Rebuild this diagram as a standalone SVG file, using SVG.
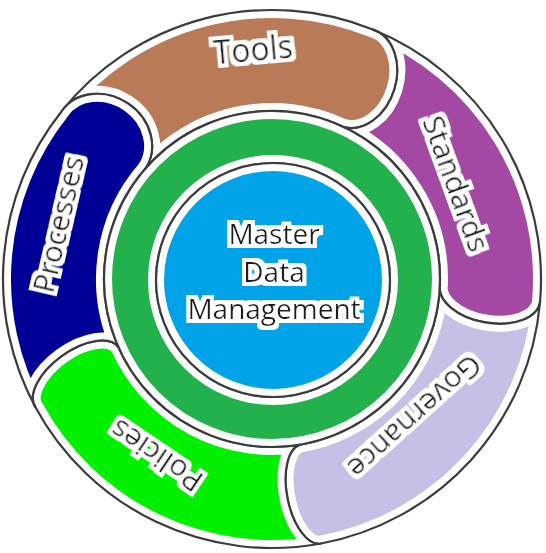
<svg xmlns="http://www.w3.org/2000/svg" width="546" height="553" viewBox="0 0 546 553">
<style>
.fill{stroke:#fff;stroke-width:16}
.line{fill:none;stroke:#3c3c3c;stroke-width:2.2}
.lbl{font-family:"Open Sans","Liberation Sans",sans-serif;fill:#1a1a1a;text-anchor:middle;filter:url(#halo)}
.seg{font-size:30px}
.mid{font-size:28px}
</style>
<defs>
<filter id="halo" x="-30%" y="-60%" width="160%" height="220%">
<feMorphology in="SourceAlpha" operator="dilate" radius="4" result="d"/>
<feFlood flood-color="#ffffff"/>
<feComposite in2="d" operator="in" result="w"/>
<feMerge><feMergeNode in="w"/><feMergeNode in="SourceGraphic"/></feMerge>
</filter>
<path id="pTools" d="M 61.5 111.5 A 269 269 0 0 1 372.8 29.6 A 50.5 38 107.1 0 1 343.0 126.7 A 168 168 0 0 0 145.2 168.8 A 50.5 44 34.4 0 0 61.5 111.5 Z"/>
<path id="pStandards" d="M 372.8 29.6 A 269 269 0 0 1 540.0 302.5 A 50.5 29 10 0 1 439.9 284.9 A 168 168 0 0 0 343.0 126.7 A 50.5 38 107.1 0 0 372.8 29.6 Z"/>
<path id="pGovernance" d="M 540.0 302.5 A 269 269 0 0 1 321.0 543.5 A 50.5 24 78.7 0 1 301.2 444.4 A 168 168 0 0 0 439.9 284.9 A 50.5 29 10 0 0 540.0 302.5 Z"/>
<path id="pPolicies" d="M 321.0 543.5 A 269 269 0 0 1 35.6 407.4 A 50.5 26 -35.9 0 1 118.5 347.3 A 168 168 0 0 0 301.2 444.4 A 50.5 24 78.7 0 0 321.0 543.5 Z"/>
<path id="pProcesses" d="M 35.6 407.4 A 269 269 0 0 1 61.5 111.5 A 50.5 44 34.4 0 1 145.2 168.8 A 168 168 0 0 0 118.5 347.3 A 50.5 26 -35.9 0 0 35.6 407.4 Z"/>
<path id="pRing" fill-rule="evenodd" d="M 104 279 A 168 168 0 1 0 440 279 A 168 168 0 1 0 104 279 Z M 156 280 A 117 117 0 1 0 390 280 A 117 117 0 1 0 156 280 Z"/>
<circle id="pCore" cx="273" cy="280" r="117"/>
<clipPath id="cTools"><use href="#pTools"/></clipPath>
<clipPath id="cStandards"><use href="#pStandards"/></clipPath>
<clipPath id="cGovernance"><use href="#pGovernance"/></clipPath>
<clipPath id="cPolicies"><use href="#pPolicies"/></clipPath>
<clipPath id="cProcesses"><use href="#pProcesses"/></clipPath>
<clipPath id="cRing"><use href="#pRing" clip-rule="evenodd"/></clipPath>
<clipPath id="cCore"><use href="#pCore"/></clipPath>
</defs>
<rect width="546" height="553" fill="#fff"/>

<g id="tools">
<use href="#pTools" class="fill" fill="#B97A57" clip-path="url(#cTools)"/>
<use href="#pTools" class="line"/>
<text class="lbl" font-size="32" transform="translate(253 49) rotate(-5)" x="0" y="11.8">Tools</text>
</g>

<g id="standards">
<use href="#pStandards" class="fill" fill="#A349A4" clip-path="url(#cStandards)"/>
<use href="#pStandards" class="line"/>
<text class="lbl seg" transform="translate(456.5 183.5) rotate(70)" x="0" y="11">Standards</text>
</g>

<g id="governance">
<use href="#pGovernance" class="fill" fill="#C8BFE7" clip-path="url(#cGovernance)"/>
<use href="#pGovernance" class="line"/>
<text class="lbl seg" transform="translate(415 417) rotate(138)" x="0" y="11">Governance</text>
</g>

<g id="policies">
<use href="#pPolicies" class="fill" fill="#00F000" clip-path="url(#cPolicies)"/>
<use href="#pPolicies" class="line"/>
<text class="lbl seg" transform="translate(156 456) rotate(214)" x="0" y="11">Policies</text>
</g>

<g id="processes">
<use href="#pProcesses" class="fill" fill="#000096" clip-path="url(#cProcesses)"/>
<use href="#pProcesses" class="line"/>
<text class="lbl seg" transform="translate(58 224) rotate(-77)" x="0" y="11">Processes</text>
</g>

<g id="data-ring">
<use href="#pRing" class="fill" fill="#22B14C" fill-rule="evenodd" clip-path="url(#cRing)"/>
<use href="#pRing" class="line"/>
</g>

<g id="master-data-management">
<use href="#pCore" class="fill" fill="#00A2E8" clip-path="url(#cCore)"/>
<use href="#pCore" class="line"/>
<text class="lbl mid" x="274" y="244">Master</text>
<text class="lbl mid" x="274" y="282">Data</text>
<text class="lbl mid" x="274" y="319">Management</text>
</g>

<g id="connectors"></g>
</svg>
